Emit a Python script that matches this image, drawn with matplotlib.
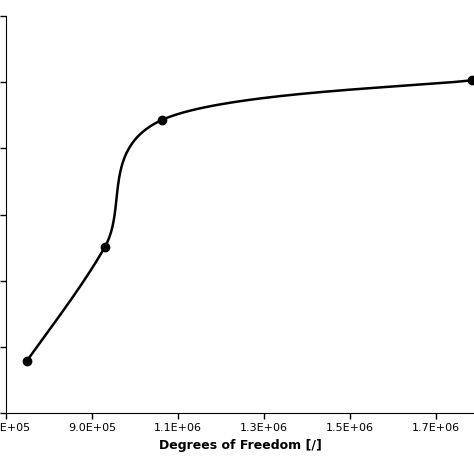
import numpy as np
import matplotlib
matplotlib.use("Agg")
import matplotlib.pyplot as plt

dof = [7.49e5, 9.30e5, 1.063e6, 1.784e6]
val = [0.79, 2.51, 4.43, 5.03]
xticks = [7.0e5, 9.0e5, 1.1e6, 1.3e6, 1.5e6, 1.7e6]
xlabels = ["7.0E+05", "9.0E+05", "1.1E+06", "1.3E+06", "1.5E+06", "1.7E+06"]

fig = plt.figure(figsize=(4.74, 4.74), dpi=100)
ax = fig.add_axes([6/474, 61/474, 1 - 6/474, (413-16)/474])

# Excel-like smooth curve (Catmull-Rom Bezier)
x = np.array(dof); y = np.array(val)
# normalize to pixel-ish space for shape
sx = 86/2e5; sy = 66.2
P = np.column_stack([x*sx, y*sy])
pts = []
n = len(P)
for i in range(n-1):
    p0 = P[i-1] if i > 0 else P[i]
    p1, p2 = P[i], P[i+1]
    p3 = P[i+2] if i+2 < n else P[i+1]
    c1 = p1 + (p2 - p0)/6
    c2 = p2 - (p3 - p1)/6
    t = np.linspace(0, 1, 100)[:, None]
    B = (1-t)**3*p1 + 3*(1-t)**2*t*c1 + 3*(1-t)*t**2*c2 + t**3*p2
    pts.append(B)
B = np.vstack(pts)
ax.plot(B[:, 0]/sx, B[:, 1]/sy, color="black", lw=1.8, clip_on=False)
ax.plot(x, y, "o", color="black", ms=6, clip_on=False)

ax.set_xlim(7.0e5, 7.0e5 + (474-6)/86*2e5)
ax.set_ylim(0, 6)
ax.set_xticks(xticks)
ax.set_xticklabels(xlabels, fontsize=8)
ax.set_yticks(np.arange(0, 7, 1))
ax.set_yticklabels([])
ax.tick_params(direction="out", length=4, width=1)
ax.spines["top"].set_visible(False)
ax.spines["right"].set_visible(False)
ax.set_xlabel("Degrees of Freedom [/]", fontweight="bold", fontsize=9)
fig.savefig("out.png", dpi=100)
